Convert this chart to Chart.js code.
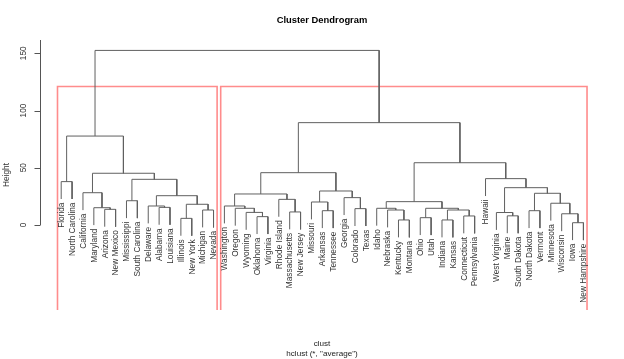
<!DOCTYPE html>
<html><head><meta charset="utf-8">
<script src="https://cdn.jsdelivr.net/npm/chart.js@4/dist/chart.umd.min.js"></script>
<style>html,body{margin:0;padding:0;background:#fff;}canvas{display:block;}</style>
</head><body>
<canvas id="c" width="624" height="359"></canvas>
<script>
// Leaves in plotted order
const leafLabels = ["Florida","North Carolina","California","Maryland","Arizona","New Mexico","Mississippi","South Carolina","Delaware","Alabama","Louisiana","Illinois","New York","Michigan","Nevada",
  "Washington","Oregon","Wyoming","Oklahoma","Virginia","Rhode Island","Massachusetts","New Jersey","Missouri","Arkansas","Tennessee","Georgia","Colorado","Texas","Idaho","Nebraska","Kentucky","Montana","Ohio","Utah","Indiana","Kansas","Connecticut","Pennsylvania","Hawaii","West Virginia","Maine","South Dakota","North Dakota","Vermont","Minnesota","Wisconsin","Iowa","New Hampshire"];
// Merge table (R convention): negative = leaf number (1-based, plotted order), positive = earlier merge number
const mergeLeft   = [-48,-32,-36,-12,-34,-19,-38,-42,-47,-18,-41,-22,-25,-44,-14,-31, 3,-5,-28,-17,-30, 5,-4,-10,-9,-16, 4,-46,-24,21,-7,-21,-27,25,26,14,-3,29,11,-1,31,-40,37,35,30,40,44,46];
const mergeRight  = [-49,-33,-37,-13,-35,-20,-39,-43,  1,  6,  8,-23,-26,-45,-15,  2, 7,-6,-29, 10, 16,17,18,-11,24,20,15,  9, 13,22,-8, 12, 19,27,32,28,23,33,36,-2,34, 39,41,38,42,43,45,47];
const mergeHeight = [2.0,4.4,4.4,5.8,6.4,7.3,7.9,8.0,9.8,11.0,10.9,11.4,12.5,12.5,13.1,13.1,13.1,13.7,14.3,14.6,14.6,14.6,15.1,15.4,16.6,16.6,18.1,19.0,20.1,20.4,21.2,22.4,23.9,25.6,27.1,27.7,28.2,29.7,32.6,37.9,39.9,40.5,45.2,45.7,54.4,77.7,89.4,152.5];
const yTicks = [0, 50, 100, 150];
const clusterSizes = [15, 34];
const hangHeight = 15.2;

// ---- build geometry in data units ----
const nMerge = mergeHeight.length;
const mergeX = [];
function posOf(id){ return id < 0 ? -id : mergeX[id-1]; }
for (let k = 0; k < nMerge; k++) mergeX[k] = (posOf(mergeLeft[k]) + posOf(mergeRight[k])) / 2;
const leafParentH = new Array(leafLabels.length + 1);
for (let k = 0; k < nMerge; k++) {
  if (mergeLeft[k] < 0) leafParentH[-mergeLeft[k]] = mergeHeight[k];
  if (mergeRight[k] < 0) leafParentH[-mergeRight[k]] = mergeHeight[k];
}
function bottomOf(id, h){ return id < 0 ? h - hangHeight : mergeHeight[id-1]; }

const Y_MIN = -74.25, Y_MAX = 161.6;
const lineColor = '#606060';
const datasets = [];
for (let k = 0; k < nMerge; k++) {
  const h = mergeHeight[k], l = mergeLeft[k], r = mergeRight[k];
  datasets.push({
    data: [{x: posOf(l), y: bottomOf(l, h)}, {x: posOf(l), y: h}, {x: posOf(r), y: h}, {x: posOf(r), y: bottomOf(r, h)}],
    borderColor: lineColor, borderWidth: 1, showLine: true, pointRadius: 0, tension: 0, fill: false
  });
}
// rect.hclust style boxes for k = 2
const sortedH = mergeHeight.slice().sort((a,b)=>b-a);
const cutTop = (sortedH[0] + sortedH[1]) / 2;
let start = 0;
clusterSizes.forEach(sz => {
  datasets.push({
    data: [{x: start + 0.66, y: Y_MIN}, {x: start + 0.66, y: cutTop}, {x: start + sz + 0.33, y: cutTop}, {x: start + sz + 0.33, y: Y_MIN}],
    borderColor: '#ff8c8c', borderWidth: 1.6, showLine: true, pointRadius: 0, tension: 0, fill: false
  });
  start += sz;
});

const FONT = '"Liberation Sans", Arial, sans-serif';
const textPlugin = {
  id: 'dendroText',
  afterDraw(chart) {
    const ctx = chart.ctx, xs = chart.scales.x, ys = chart.scales.y, area = chart.chartArea;
    ctx.save();
    // y axis
    ctx.strokeStyle = '#555'; ctx.lineWidth = 1;
    const ax = Math.round(area.left) + 0.5;
    ctx.beginPath();
    ctx.moveTo(ax, area.top);
    ctx.lineTo(ax, ys.getPixelForValue(yTicks[0]));
    yTicks.forEach(t => {
      const py = Math.round(ys.getPixelForValue(t)) + 0.5;
      ctx.moveTo(ax, py); ctx.lineTo(ax - 6, py);
    });
    ctx.stroke();
    ctx.fillStyle = '#333';
    ctx.font = '8.3px ' + FONT;
    ctx.textAlign = 'center'; ctx.textBaseline = 'middle';
    yTicks.forEach(t => {
      const py = ys.getPixelForValue(t);
      ctx.save(); ctx.translate(23.5, py); ctx.rotate(-Math.PI/2); ctx.fillText(String(t), 0, 0); ctx.restore();
    });
    ctx.save(); ctx.translate(7, (area.top + area.bottom)/2); ctx.rotate(-Math.PI/2); ctx.fillText('Height', 0, 0); ctx.restore();
    // leaf labels
    ctx.textAlign = 'right';
    leafLabels.forEach((lab, i) => {
      const px = xs.getPixelForValue(i + 1);
      const py = ys.getPixelForValue(leafParentH[i + 1] - hangHeight) + 3.5;
      ctx.save(); ctx.translate(px, py); ctx.rotate(-Math.PI/2); ctx.fillText(lab, 0, 0.5); ctx.restore();
    });
    // titles
    const cx = (area.left + area.right) / 2;
    ctx.textAlign = 'center';
    ctx.fillStyle = '#000';
    ctx.font = 'bold 9.4px ' + FONT;
    ctx.fillText('Cluster Dendrogram', cx, 20.5);
    ctx.fillStyle = '#222';
    ctx.font = '8.1px ' + FONT;
    ctx.fillText('clust', cx, 343.5);
    ctx.fillText('hclust (*, "average")', cx, 353.5);
    ctx.restore();
  }
};

new Chart(document.getElementById('c'), {
  type: 'scatter',
  data: { datasets },
  options: {
    responsive: false, animation: false, devicePixelRatio: 1,
    layout: { padding: { left: 40, right: 20, top: 40, bottom: 49 } },
    plugins: { legend: { display: false }, tooltip: { enabled: false }, title: { display: false } },
    scales: {
      x: { type: 'linear', display: false, min: -0.9485, max: 50.89 },
      y: { type: 'linear', display: false, min: Y_MIN, max: Y_MAX }
    }
  },
  plugins: [textPlugin]
});
</script>
</body></html>
